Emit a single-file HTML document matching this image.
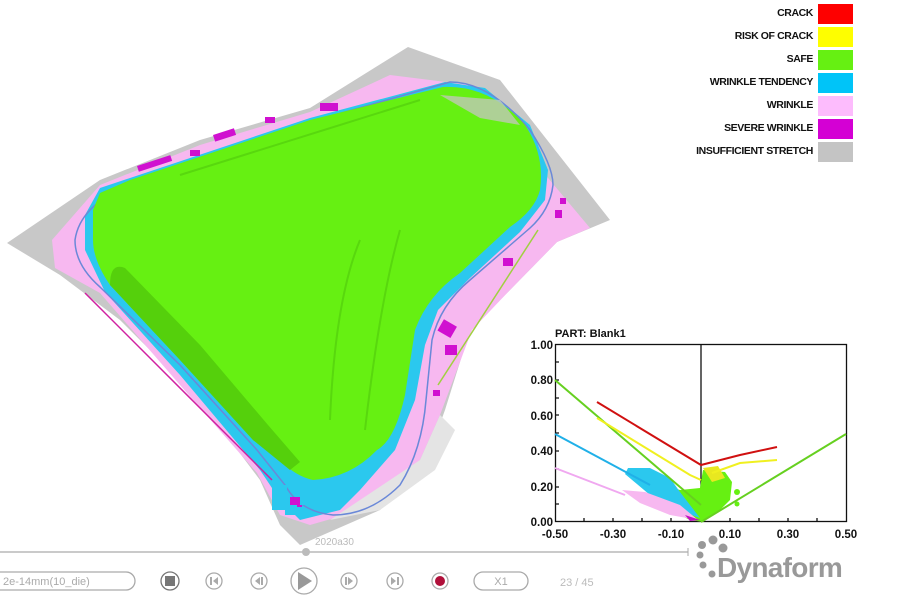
<!DOCTYPE html>
<html><head><meta charset="utf-8"><style>
html,body{margin:0;padding:0;background:#fff;width:899px;height:597px;overflow:hidden;font-family:"Liberation Sans",sans-serif}
.lg{position:absolute;right:86px;font-size:10.5px;font-weight:bold;letter-spacing:-0.4px;color:#111;text-align:right}
.bx{position:absolute;left:818px;width:35px;height:20px}
</style></head><body>
<svg width="899" height="597" style="position:absolute;left:0;top:0">
<path d="M7,243 L100,180 L200,140 L310,108 L408,47 L500,80 L610,220 L557,242 L510,290 L470,330 L445,410 L425,465 L380,510 L300,545 L280,525 L260,480 L200,400 L120,320 L60,275 Z" fill="#c8c8c8"/>
<path d="M52,240 L100,185 L200,145 L310,112 L390,75 L470,85 L590,228 L557,242 L510,290 L472,330 L440,415 L420,460 L380,505 L310,525 L280,515 L257,473 L180,385 L100,293 L55,268 Z" fill="#f7b8f0"/>
<path d="M20,243 L45,230 L52,240 L40,250 L55,268 Z" fill="#c8c8c8"/>
<path d="M420,460 L440,415 L455,430 L435,470 L380,510 L330,520 Z" fill="#e4e4e4"/>
<path d="M85,215 L100,188 L310,118 L445,82 L485,88 L530,125 L548,170 L545,200 L520,232 L470,278 L438,310 L425,345 L415,400 L395,450 L360,490 L340,510 L300,520 L280,500 L260,470 L180,375 L105,292 L85,250 Z" fill="#2bc8ee"/>
<path d="M75,240 Q80,205 130,185 L310,122 L450,82 Q490,82 530,130 Q553,165 553,185 Q550,210 530,228 L470,280 Q440,305 432,340 L426,400 Q422,450 400,485 Q370,515 333,515 Q300,512 285,485 L257,450 L180,365 L100,287 Q75,265 75,240 Z" fill="none" stroke="#6a88d8" stroke-width="1.5"/>
<path d="M100,193 L130,180 L310,120 L443,87 Q490,85 525,125 Q545,155 540,190 Q535,210 510,227 L460,273 Q428,295 415,330 L405,395 Q395,440 377,450 Q350,478 313,480 Q295,476 280,460 L253,440 L180,360 L110,285 Q93,260 93,240 L93,210 Z" fill="#66f012"/>
<path d="M110,285 L180,360 L253,440 L290,470 L300,462 L268,425 L200,345 L125,268 Q110,262 110,285 Z" fill="#55d00c"/>
<path d="M180,175 L420,100 M360,240 Q335,300 330,420 M400,230 Q380,300 365,430" stroke="#58d80e" stroke-width="2" fill="none"/>
<path d="M440,95 L500,100 L520,125 L480,118 Z" fill="#c0c8b8" opacity="0.8"/>
<line x1="85" y1="293" x2="272" y2="480" stroke="#d020a0" stroke-width="1.5"/>
<line x1="438" y1="385" x2="538" y2="230" stroke="#a0d040" stroke-width="1.5"/>
<g fill="#d010d0"><rect x="137" y="166" width="35" height="6" transform="rotate(-18 137 166)"/><rect x="190" y="150" width="10" height="6"/><rect x="213" y="135" width="22" height="7" transform="rotate(-18 213 135)"/><rect x="265" y="117" width="10" height="6"/><rect x="320" y="103" width="18" height="8"/><rect x="440" y="322" width="15" height="13" transform="rotate(30 447 328)"/><rect x="445" y="345" width="12" height="10"/><rect x="560" y="198" width="6" height="6"/><rect x="555" y="210" width="7" height="8"/><rect x="503" y="258" width="10" height="8"/><rect x="290" y="497" width="12" height="10"/><rect x="433" y="390" width="7" height="6"/></g>
<g fill="#2bc8ee"><rect x="272" y="485" width="15" height="25"/><rect x="300" y="490" width="40" height="15"/><rect x="285" y="505" width="12" height="10"/></g>

<g font-family="Liberation Sans,sans-serif" font-weight="bold" font-size="11.5" fill="#111">
<text x="555" y="337" font-size="11">PART: Blank1</text>
<text x="553" y="349" text-anchor="end">1.00</text>
<text x="553" y="384" text-anchor="end">0.80</text>
<text x="553" y="420" text-anchor="end">0.60</text>
<text x="553" y="455" text-anchor="end">0.40</text>
<text x="553" y="491" text-anchor="end">0.20</text>
<text x="553" y="526" text-anchor="end">0.00</text>
<text x="555" y="538" text-anchor="middle">-0.50</text>
<text x="613" y="538" text-anchor="middle">-0.30</text>
<text x="671" y="538" text-anchor="middle">-0.10</text>
<text x="730" y="538" text-anchor="middle">0.10</text>
<text x="788" y="538" text-anchor="middle">0.30</text>
<text x="846" y="538" text-anchor="middle">0.50</text>
</g>
<g stroke="#111" stroke-width="1.3" fill="none">
<rect x="555.5" y="344.5" width="291" height="177"/>
<line x1="701" y1="344" x2="701" y2="522"/>
<path d="M555,362h4M555,380h4M555,398h4M555,415h4M555,433h4M555,451h4M555,469h4M555,487h4M555,504h4M584,522v-4M613,522v-4M642,522v-4M671,522v-4M730,522v-4M759,522v-4M788,522v-4M817,522v-4"/>
</g>
<path d="M650,480 L680,490 L700,488 L703,470 L725,472 L732,482 L730,500 L720,510 L703,522 L690,520 L670,510 L655,498 Z" fill="#66f012"/>
<path d="M625,474 L628,468 L650,468 L670,478 L680,492 L690,505 L700,518 L678,510 L650,495 Z" fill="#2bc8ee"/>
<path d="M622,490 L645,492 L680,505 L698,520 L670,515 L640,503 Z" fill="#f7b8f0"/>
<path d="M685,515 L700,520 L690,521 Z" fill="#c010c0"/>
<path d="M703,468 L718,466 L725,478 L712,482 Z" fill="#e8e820"/>
<g fill="#66f012"><circle cx="728" cy="486" r="3"/><circle cx="737" cy="492" r="3"/><circle cx="737" cy="504" r="2.5"/><circle cx="722" cy="495" r="3"/></g>
<g fill="none" stroke-width="2">
<polyline points="555,380 701,505" stroke="#66d020"/>
<polyline points="701,522 846,434" stroke="#66d020"/>
<polyline points="555,434 650,485" stroke="#20b0e8"/>
<polyline points="555,468 625,495" stroke="#f0a8f0"/>
<polyline points="597,402 701,465 740,455 777,447" stroke="#d01010"/>
<polyline points="597,418 690,475 701,480" stroke="#f0f020"/>
<polyline points="712,473 740,463 777,460" stroke="#f0f020"/>
</g>
<line x1="0" y1="552" x2="688" y2="552" stroke="#aaa" stroke-width="1.3"/>
<line x1="688" y1="548" x2="688" y2="556" stroke="#aaa"/>
<circle cx="306" cy="552" r="4" fill="#bbb"/>
<text x="315" y="545" font-size="10" fill="#bbb">2020a30</text>
<g fill="none" stroke="#aaa" stroke-width="1.3">
<rect x="-10" y="572" width="145" height="18" rx="9"/>
<rect x="474" y="572" width="54" height="18" rx="9"/>
<circle cx="170" cy="581" r="9" stroke="#777"/><rect x="165" y="576" width="10" height="10" fill="#777" stroke="none"/>
<circle cx="214" cy="581" r="8"/><circle cx="259" cy="581" r="8"/><circle cx="304" cy="581" r="13"/>
<circle cx="349" cy="581" r="8"/><circle cx="395" cy="581" r="8"/><circle cx="440" cy="581" r="8"/>
</g>
<path d="M298,572 L312,581 L298,590 Z" fill="#999"/>
<circle cx="440" cy="581" r="5" fill="#b0103a"/>
<g fill="#aaa"><path d="M210,577h2v8h-2zM213,581l5,-4v8z"/><path d="M255,581l5,-4v8zM261,577h2v8h-2z"/><path d="M345,577h2v8h-2zM348,577l5,4l-5,4z"/><path d="M391,577l5,4l-5,4zM397,577h2v8h-2z"/></g>
<text x="3" y="585" font-size="11" fill="#aaa">2e-14mm(10_die)</text>
<text x="501" y="585" font-size="11" fill="#aaa" text-anchor="middle">X1</text>
<text x="560" y="586" font-size="11" fill="#bbb">23 / 45</text>
<g fill="#999"><circle cx="713" cy="540" r="4.5"/><circle cx="702" cy="545" r="4"/><circle cx="700" cy="555" r="3.5"/><circle cx="703" cy="565" r="3.5"/><circle cx="712" cy="574" r="3.5"/><circle cx="723" cy="548" r="4.5"/></g>
<text x="717" y="577" font-size="28" font-weight="bold" fill="#999" letter-spacing="-0.8" textLength="125">Dynaform</text>
</svg>
<div class="lg" style="top:7px">CRACK</div><div class="bx" style="top:4px;background:#fe0000"></div>
<div class="lg" style="top:30px">RISK OF CRACK</div><div class="bx" style="top:27px;background:#fefe00"></div>
<div class="lg" style="top:53px">SAFE</div><div class="bx" style="top:50px;background:#66f012"></div>
<div class="lg" style="top:76px">WRINKLE TENDENCY</div><div class="bx" style="top:73px;background:#00c4f8"></div>
<div class="lg" style="top:99px">WRINKLE</div><div class="bx" style="top:96px;background:#fdbcfd"></div>
<div class="lg" style="top:122px">SEVERE WRINKLE</div><div class="bx" style="top:119px;background:#d400d4"></div>
<div class="lg" style="top:145px">INSUFFICIENT STRETCH</div><div class="bx" style="top:142px;background:#c4c4c4"></div>
</body></html>
